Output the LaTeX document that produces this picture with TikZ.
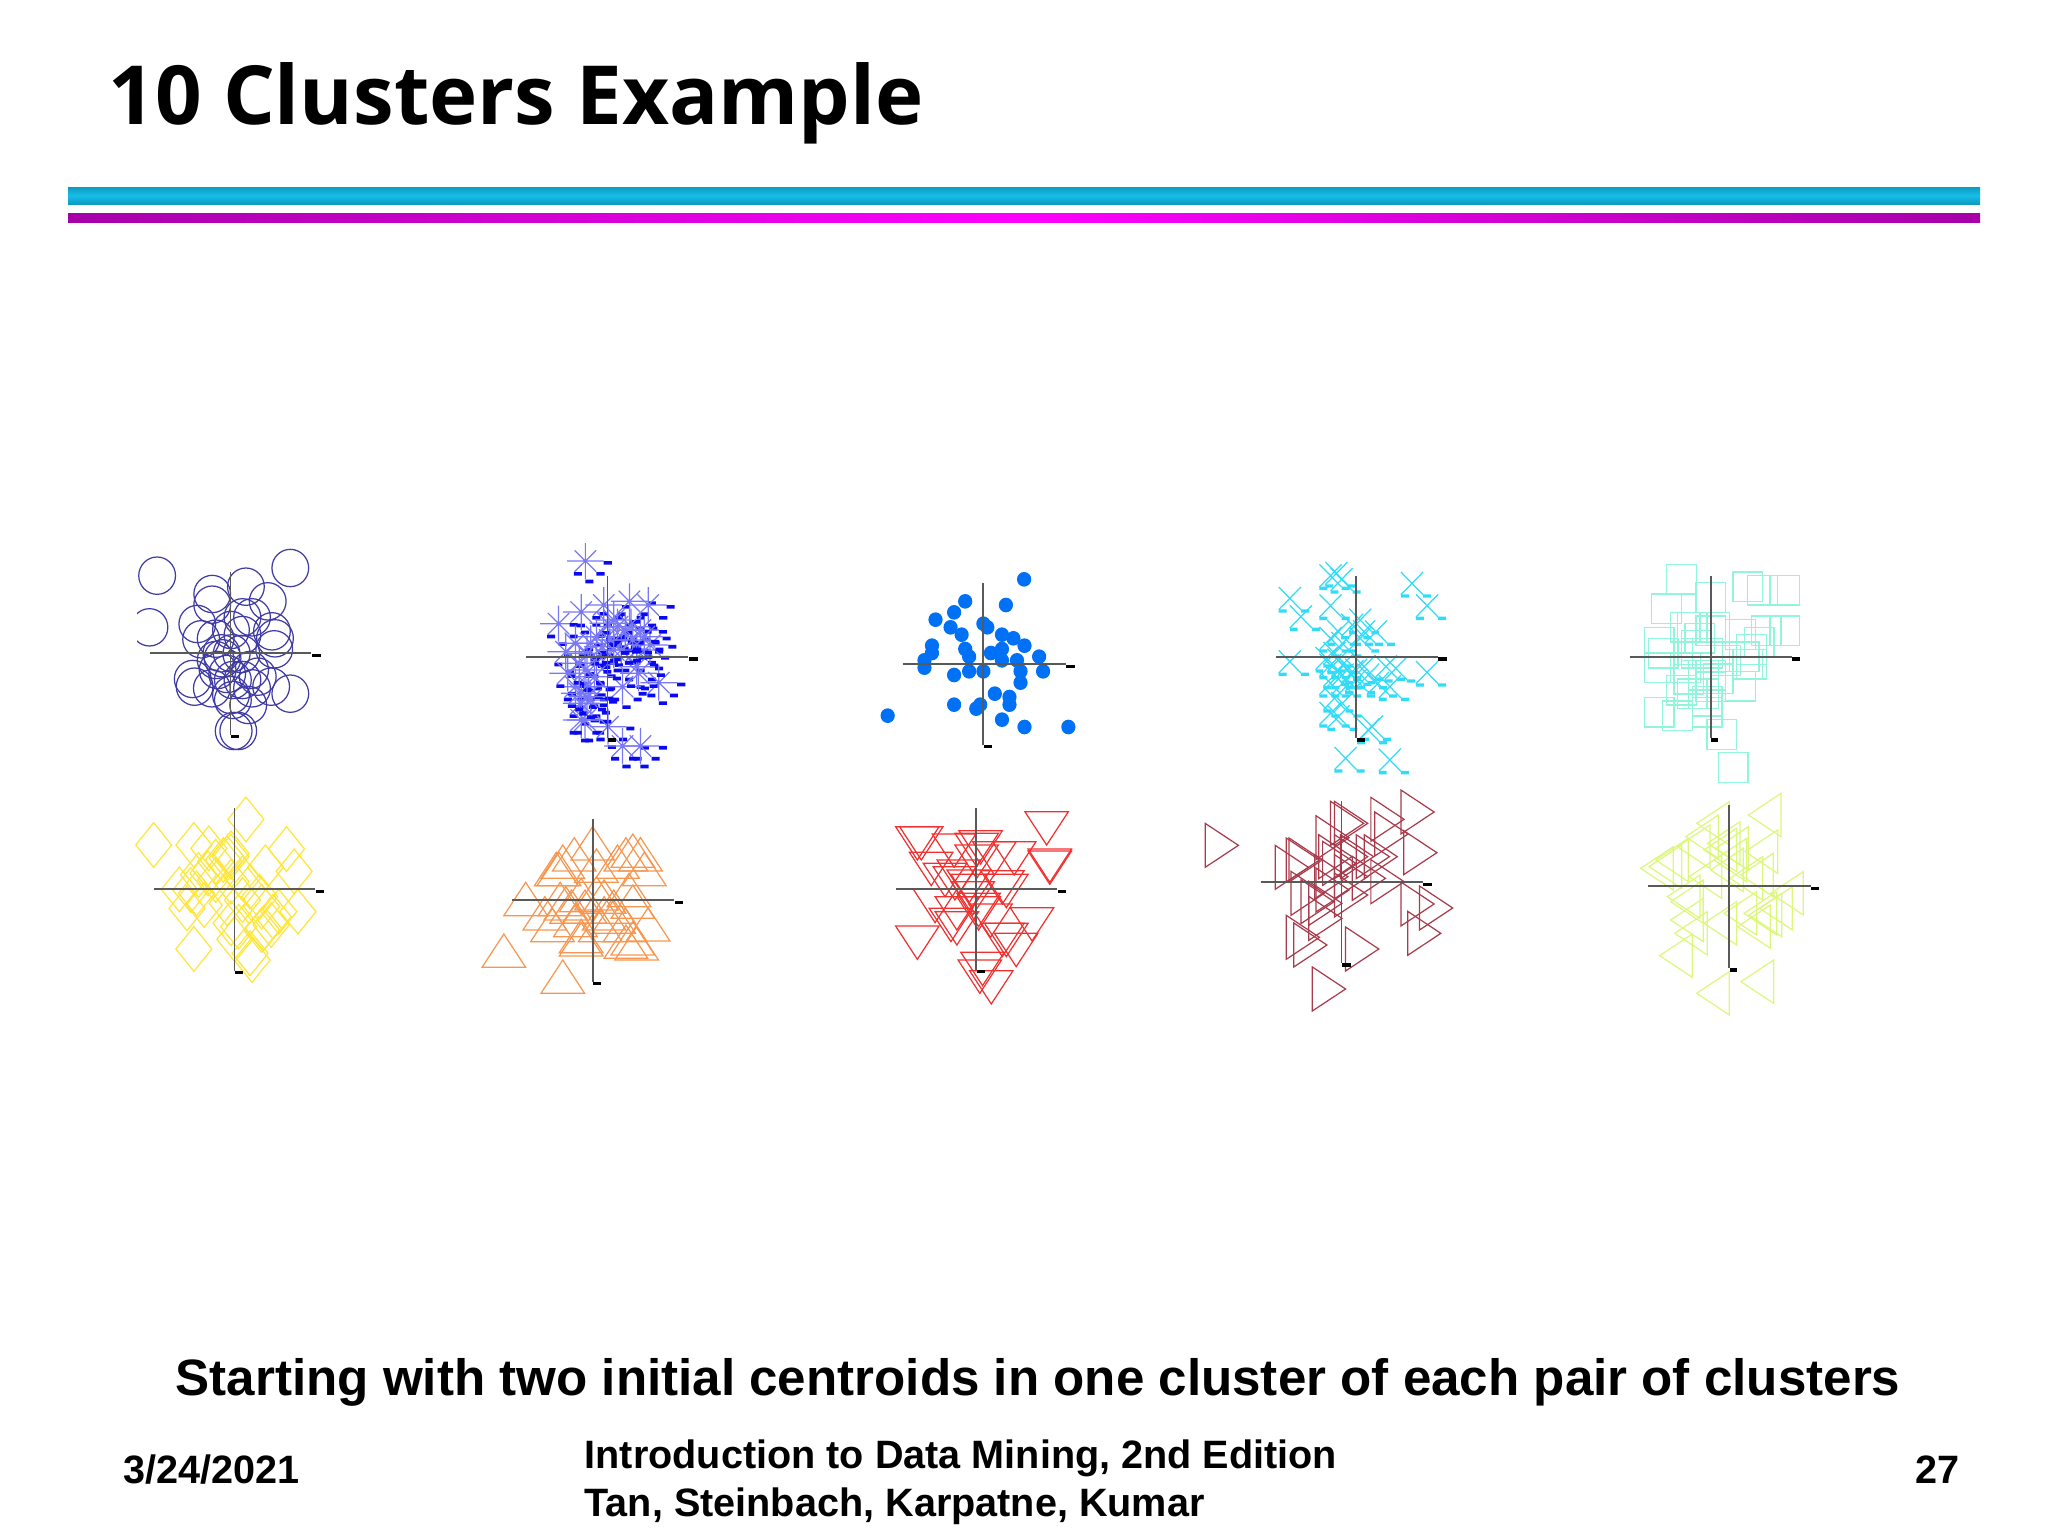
\documentclass[tikz,border=0pt]{standalone}
\usepackage{fontspec}
\setmainfont{Liberation Sans}
\newfontfamily\titlefont{Open Sans}
\definecolor{barcol}{HTML}{16BEE8}
\definecolor{baredge}{HTML}{0E9AC0}
\definecolor{lineedge}{HTML}{A600A8}
\definecolor{circlecol}{HTML}{3F3AA4}
\definecolor{starcol}{HTML}{0A0AF0}
\definecolor{dotcol}{HTML}{0070F5}
\definecolor{crosscol}{HTML}{30DCF8}
\definecolor{squarecol}{HTML}{90F5DA}
\definecolor{diamondcol}{HTML}{FFE63C}
\definecolor{upcol}{HTML}{F79650}
\definecolor{downcol}{HTML}{F23030}
\definecolor{rightcol}{HTML}{A83C4C}
\definecolor{leftcol}{HTML}{DCF87C}
\newcommand{\plotaxes}[6]{
    \draw[axisline] (#1,#3) -- (#2,#3);
    \draw[axisline] (#6,#4) -- (#6,#5);
    \fill (#2+2,#3+2) rectangle +(22,10);
    \fill (#6+1,#5) rectangle +(22,10);
}
\begin{document}
\begin{tikzpicture}[
            x = 0.01cm, y = -0.01cm,
            axisline/.style = {draw = black!65, line width = 0.5pt},
            marker/.style = {line width = 0.35pt},
            footer/.style = {anchor = base west, inner sep = 0pt, font = \fontsize{11.26}{13}\selectfont\bfseries}]
    \useasboundingbox (0,0) rectangle (2048,1536);
    \shade[top color = baredge, bottom color = baredge, middle color = barcol] (68,187) rectangle (1980,204);
    \shade[left color = lineedge, right color = lineedge, middle color = magenta] (68,213) rectangle (1980,222);
    \node[anchor = base west, inner sep = 0pt, font = \titlefont\fontsize{23.2}{26}\selectfont\bfseries] (title) at (108,124) {10 Clusters Example};
    \node[anchor = base west, inner sep = 0pt, font = \fontsize{14.54}{17}\selectfont\bfseries] (caption) at (175,1395) {Starting with two initial centroids in one cluster of each pair of clusters};
    \node[footer] (date) at (123,1483) {3/24/2021};
    \node[footer] (book) at (584,1468) {Introduction to Data Mining, 2nd Edition};
    \node[footer] (authors) at (584,1516) {Tan, Steinbach, Karpatne, Kumar};
    \node[footer] (page) at (1915,1483) {27};
    \begin{scope}[shift = {(120,530)}, xscale = 0.3827, yscale = 0.3333]
        \begin{scope}
            \clip (45,0) rectangle (600,700);
            \foreach \x/\y in {97/137,445/114,77/292,241/192,241/224,329/170,386/214,320/262,345/262,202/282,212/328,250/326,320/315,397/304,405/325,403/358,290/300,265/370,268/385,292/370,317/372,190/447,195/470,240/475,255/420,280/432,295/450,320/450,360/440,345/475,395/470,445/491,290/495,335/525,297/603,309/603,250/390,340/420,295/510}
                \draw[marker, circlecol] (\x,\y) ellipse (48 and 56);
        \end{scope}
        \plotaxes{78}{500}{369}{127}{615}{289}
        \foreach \x/\y in {1216/93,1146/281,1205/246,1264/225,1331/214,1380/225,1275/280,1300/290,1335/290,1360/300,1245/320,1190/340,1165/365,1220/370,1260/350,1310/360,1350/360,1385/345,1200/400,1245/400,1350/410,1190/470,1225/470,1313/470,1408/458,1355/430,1170/430,1205/520,1230/510,1205/570,1215/570,1275/590,1313/648,1360/648,1290/270,1320/300,1280/330,1230/340,1340/330,1370/320,1290/360,1215/420,1240/440,1200/490,1220/500} {
            \draw[marker, starcol!55!white] (\x-48,\y) -- (\x+48,\y) (\x,\y-54) -- (\x,\y+54) (\x-28,\y-32) -- (\x+28,\y+32) (\x-28,\y+32) -- (\x+28,\y-32);
            \fill[starcol] (\x+48,\y) rectangle +(21,11) (\x-30,\y+33) rectangle +(21,11) (\x+29,\y+33) rectangle +(21,11) (\x,\y+56) rectangle +(21,11);
        }
        \plotaxes{1062}{1485}{380}{138}{625}{1274}
    \end{scope}
    \begin{scope}[shift = {(860,550)}, xscale = 0.3954, yscale = 0.3333]
        \foreach \x/\y in {415/88,266/154,369/165,238/187,191/209,229/232,312/221,322/232,257/254,359/254,388/265,416/287,182/287,182/309,163/331,163/353,266/297,276/320,331/309,359/297,359/331,397/331,453/320,276/364,312/364,238/375,406/364,463/364,406/398,341/431,378/441,378/464,238/464,304/464,294/476,359/509,416/531,527/531,70/497}
            \fill[dotcol] (\x,\y) ellipse (18 and 22);
        \plotaxes{108}{520}{342}{100}{585}{312}
        \foreach \x/\y in {1190/77,1218/88,1205/70,1396/100,1087/145,1434/167,1115/200,1190/167,1265/210,1245/225,1275/245,1210/245,1305/245,1190/265,1220/280,1265/265,1087/335,1434/367,1200/310,1180/325,1210/330,1220/345,1190/345,1255/360,1275/350,1330/350,1355/355,1285/375,1245/365,1200/375,1220/375,1190/400,1310/400,1340/410,1220/400,1255/390,1200/445,1220/460,1190/490,1210/500,1295/530,1285/540,1228/625,1340/630} {
            \draw[marker, crosscol] (\x-28,\y-34) -- (\x+28,\y+34) (\x-28,\y+34) -- (\x+28,\y-34);
            \fill[crosscol] (\x-28,\y+33) rectangle +(20,10) (\x+28,\y+33) rectangle +(20,10);
        }
        \plotaxes{1051}{1461}{320}{78}{565}{1255}
    \end{scope}
    \begin{scope}[shift = {(1560,550)}, scale = 0.3333]
        \foreach \x/\y in {320/43,408/98,519/66,563/76,630/76,275/132,332/187,352/187,419/187,408/198,497/209,574/198,630/198,553/232,375/220,364/242,253/232,265/265,530/254,398/265,364/265,508/276,452/287,530/298,253/309,332/309,320/376,342/343,386/331,408/331,430/342,519/298,497/364,352/387,408/366,386/387,253/442,308/453,397/409,397/442,441/509,475/608}
            \draw[marker, squarecol] (\x,\y) rectangle +(89,89);
        \plotaxes{209}{695}{320}{78}{565}{452}
    \end{scope}
    \begin{scope}[shift = {(120,790)}, xscale = 0.3827, yscale = 0.3333]
        \foreach \x/\y in {88/165,329/88,193/165,232/175,435/177,290/190,280/205,270/210,250/215,290/200,380/232,455/244,205/255,230/250,155/298,185/300,200/310,250/270,290/275,320/265,340/290,365/320,175/355,220/345,280/340,320/330,370/350,415/365,465/365,290/400,310/410,395/405,375/415,300/448,400/380,193/477,345/510,340/490,370/420}
            \draw[marker, diamondcol] (\x-47,\y) -- (\x,\y-67) -- (\x+47,\y) -- (\x,\y+67) -- cycle;
        \plotaxes{88}{510}{298}{55}{543}{299}
        \foreach \x/\y in {1235/110,1187/143,1157/165,1147/187,1140/187,1245/177,1322/143,1340/132,1360/143,1300/165,1370/187,1060/277,1110/320,1150/277,1165/290,1205/265,1245/260,1265/270,1330/250,1340/285,1130/355,1190/340,1265/320,1205/388,1205/398,1290/330,1320/355,1350/410,1380/353,1322/405,1003/432,1157/510,1340/395,1215/300,1290/300,1180/300,1255/355}
            \draw[marker, upcol] (\x-57,\y+100) -- (\x,\y) -- (\x+57,\y+100) -- cycle;
        \plotaxes{1023}{1447}{331}{88}{575}{1235}
    \end{scope}
    \begin{scope}[shift = {(860,780)}, xscale = 0.3954, yscale = 0.3333]
        \foreach \x/\y in {472/95,145/140,155/140,305/152,295/160,238/162,390/185,480/207,480/213,180/217,340/185,295/195,250/240,215/250,240/260,275/270,360/272,370/283,285/283,190/328,300/350,245/350,330/372,435/383,230/385,245/395,370/430,395/460,145/438,310/517,303/540,332/572,360/430,285/305,300/340}
            \draw[marker, downcol] (\x-55,\y) -- (\x+55,\y) -- (\x,\y+100) -- cycle;
        \plotaxes{90}{498}{328}{85}{570}{294}
        \foreach \x/\y in {873/196,1368/96,1292/118,1302/162,1375/218,1190/130,1200/130,1153/173,1160/230,1078/240,1085/240,1050/262,1200/230,1215/230,1255/230,1275/230,1170/250,1150/290,1200/290,1245/295,1292/305,1090/340,1115/365,1135/415,1153/330,1200/345,1368/372,1415/384,1385/460,1078/472,1097/495,1228/507,1144/627,1135/370}
            \draw[marker, rightcol] (\x,\y-66) -- (\x+84,\y) -- (\x,\y+66) -- cycle;
        \plotaxes{1013}{1423}{306}{63}{550}{1218}
    \end{scope}
    \begin{scope}[shift = {(1600,780)}, scale = 0.3333]
        \foreach \x/\y in {521/605,388/640,277/527,543/105,388/130,533/215,610/340,577/385,511/440,545/405,355/170,330/200,220/265,245/260,265/240,420/190,410/210,440/240,488/295,520/285,300/350,310/365,310/420,322/460,410/430,470/400,530/400,430/270,365/290,445/205}
            \draw[marker, leftcol] (\x,\y-65) -- (\x-98,\y) -- (\x,\y+65) -- cycle;
        \plotaxes{145}{632}{318}{75}{565}{388}
    \end{scope}
\end{tikzpicture}
\end{document}
